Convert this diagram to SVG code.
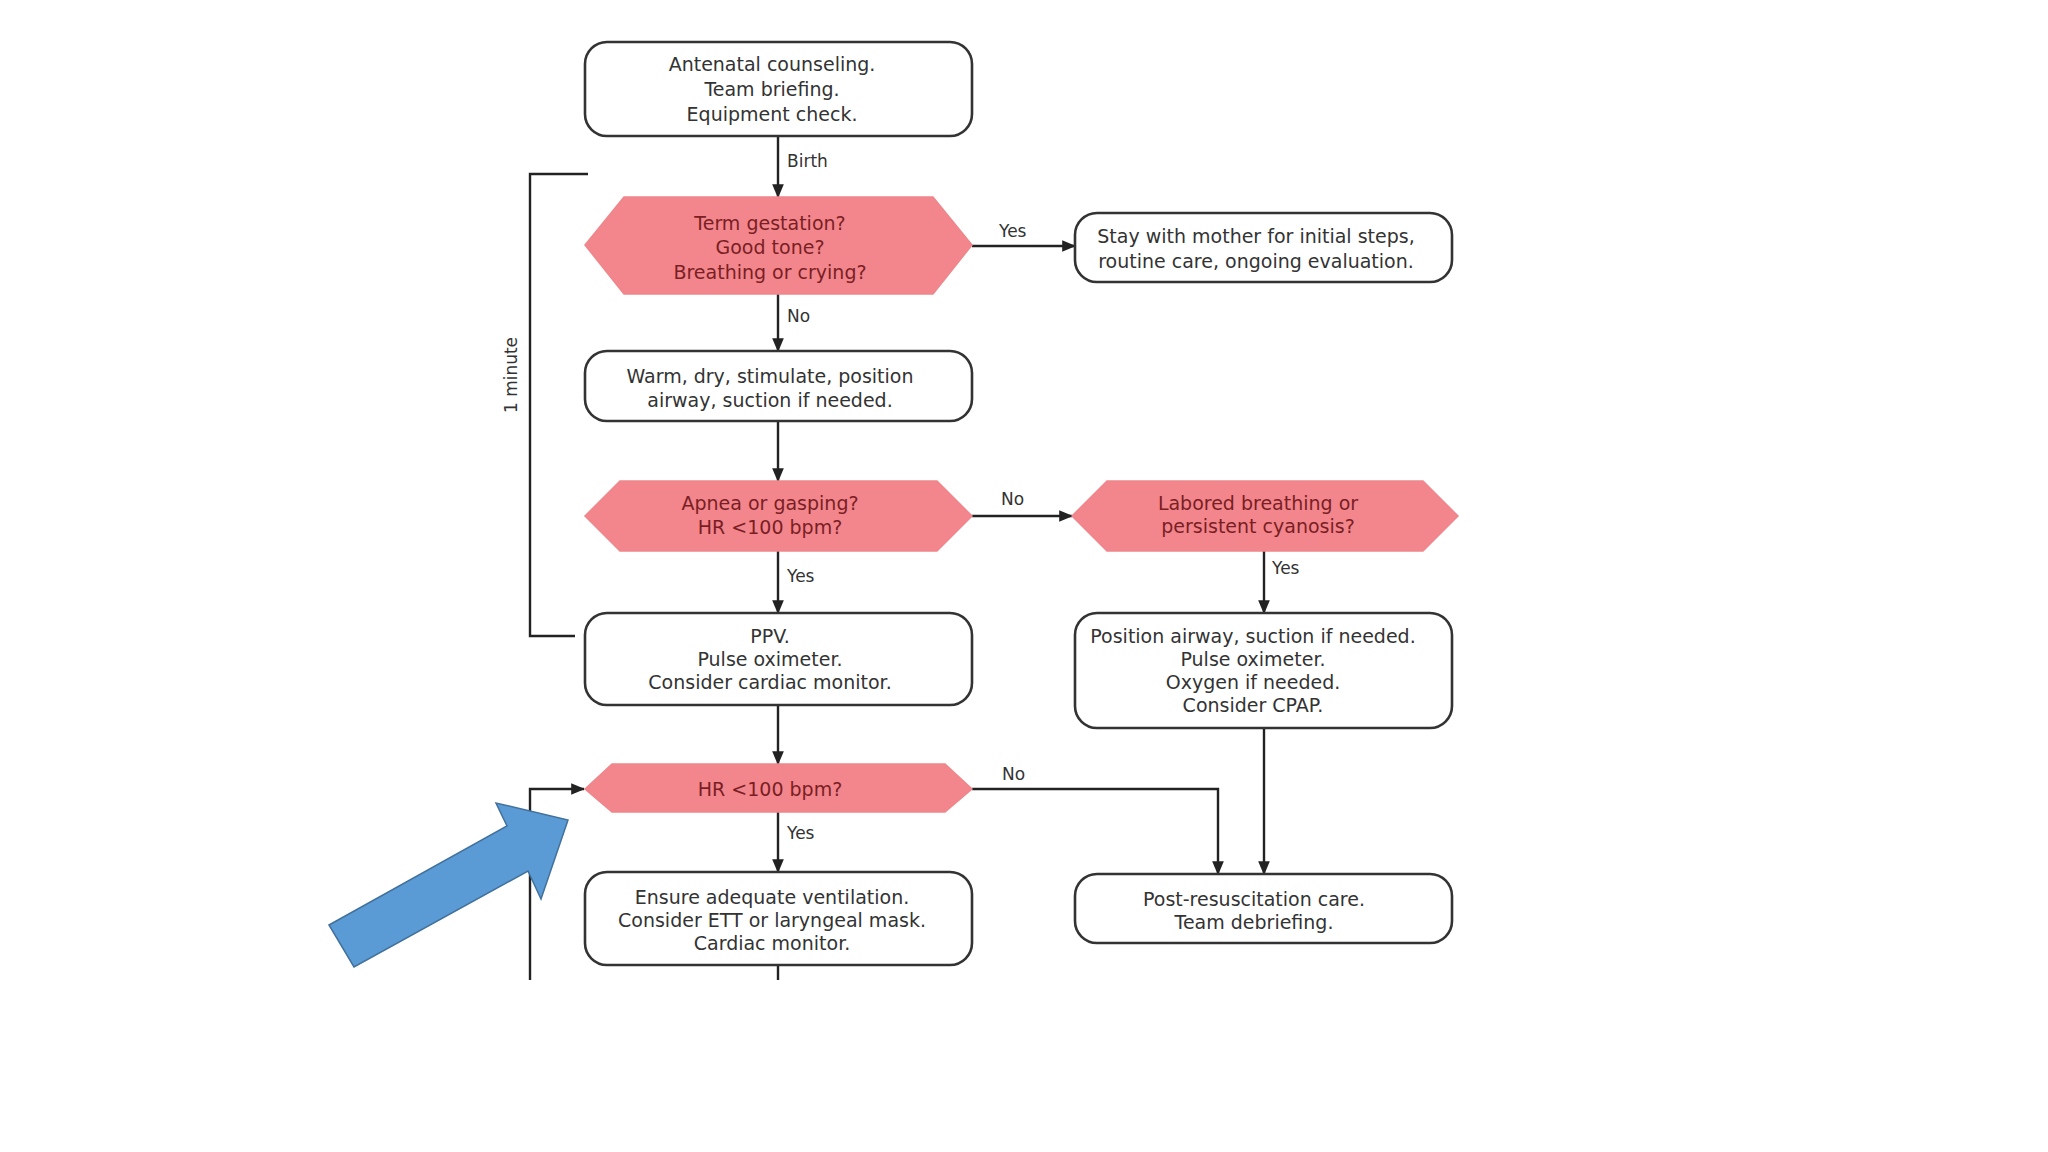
<svg xmlns="http://www.w3.org/2000/svg" width="2048" height="1152" viewBox="0 0 2048 1152">
<defs>
<marker id="ah" viewBox="0 0 12 10" refX="11" refY="5" markerWidth="14" markerHeight="12" orient="auto" markerUnits="userSpaceOnUse">
<path d="M0,0 L12,5 L0,10 Z" fill="#222"/>
</marker>
<style>
.box{fill:#fff;stroke:#333;stroke-width:2.6}
.hex{fill:#F2868C;stroke:#EE868B;stroke-width:1.5}
.t{font-family:"DejaVu Sans",sans-serif;font-size:19px;fill:#333;text-anchor:middle}
.h{font-family:"DejaVu Sans",sans-serif;font-size:19px;fill:#7a1e24;text-anchor:middle}
.l{font-family:"DejaVu Sans",sans-serif;font-size:17px;fill:#333}
.c{fill:none;stroke:#222;stroke-width:2.4}
.cm{fill:none;stroke:#222;stroke-width:2.4;marker-end:url(#ah)}
</style>
</defs>
<rect width="2048" height="1152" fill="#fff"/>

<g id="connectors">
<line class="cm" x1="778" y1="136" x2="778" y2="197"/>
<line class="cm" x1="972" y1="246" x2="1075" y2="246"/>
<line class="cm" x1="778" y1="294" x2="778" y2="351"/>
<line class="cm" x1="778" y1="421" x2="778" y2="481"/>
<line class="cm" x1="972" y1="516" x2="1072" y2="516"/>
<line class="cm" x1="778" y1="551" x2="778" y2="613"/>
<line class="cm" x1="1264" y1="551" x2="1264" y2="613"/>
<line class="cm" x1="778" y1="705" x2="778" y2="764"/>
<line class="cm" x1="778" y1="812" x2="778" y2="872"/>
<polyline class="cm" points="972,789 1218,789 1218,874"/>
<line class="cm" x1="1264" y1="728" x2="1264" y2="874"/>
<line class="c" x1="778" y1="965" x2="778" y2="980"/>
<polyline class="cm" points="530,980 530,789 584,789"/>
<polyline class="c" points="588,174 530,174 530,636 575,636"/>
<text class="l" x="787" y="167">Birth</text>
<text class="l" x="999" y="237">Yes</text>
<text class="l" x="787" y="322">No</text>
<text class="l" x="1001" y="505">No</text>
<text class="l" x="787" y="582">Yes</text>
<text class="l" x="1272" y="574">Yes</text>
<text class="l" x="1002" y="780">No</text>
<text class="l" x="787" y="839">Yes</text>
<text class="l" x="0" y="0" text-anchor="middle" transform="translate(517,375) rotate(-90)">1 minute</text>
</g>

<g id="n1">
<rect class="box" x="585" y="42" width="387" height="94" rx="22"/>
<text class="t" x="772" y="71">Antenatal counseling.</text>
<text class="t" x="772" y="96">Team briefing.</text>
<text class="t" x="772" y="121">Equipment check.</text>
</g>

<g id="n2">
<polygon class="hex" points="585,245 624,197 933,197 972,245 933,294 624,294"/>
<text class="h" x="770" y="230">Term gestation?</text>
<text class="h" x="770" y="254">Good tone?</text>
<text class="h" x="770" y="279">Breathing or crying?</text>
</g>

<g id="n3">
<rect class="box" x="1075" y="213" width="377" height="69" rx="22"/>
<text class="t" x="1256" y="243">Stay with mother for initial steps,</text>
<text class="t" x="1256" y="268">routine care, ongoing evaluation.</text>
</g>

<g id="n4">
<rect class="box" x="585" y="351" width="387" height="70" rx="22"/>
<text class="t" x="770" y="383">Warm, dry, stimulate, position</text>
<text class="t" x="770" y="407">airway, suction if needed.</text>
</g>

<g id="n5">
<polygon class="hex" points="585,516 620,481 937,481 972,516 937,551 620,551"/>
<text class="h" x="770" y="510">Apnea or gasping?</text>
<text class="h" x="770" y="534">HR &lt;100 bpm?</text>
</g>

<g id="n6">
<polygon class="hex" points="1072,516 1107,481 1423,481 1458,516 1423,551 1107,551"/>
<text class="h" x="1258" y="510">Labored breathing or</text>
<text class="h" x="1258" y="533">persistent cyanosis?</text>
</g>

<g id="n7">
<rect class="box" x="585" y="613" width="387" height="92" rx="22"/>
<text class="t" x="770" y="643">PPV.</text>
<text class="t" x="770" y="666">Pulse oximeter.</text>
<text class="t" x="770" y="689">Consider cardiac monitor.</text>
</g>

<g id="n8">
<rect class="box" x="1075" y="613" width="377" height="115" rx="22"/>
<text class="t" x="1253" y="643">Position airway, suction if needed.</text>
<text class="t" x="1253" y="666">Pulse oximeter.</text>
<text class="t" x="1253" y="689">Oxygen if needed.</text>
<text class="t" x="1253" y="712">Consider CPAP.</text>
</g>

<g id="n9">
<polygon class="hex" points="585,789 612,764 945,764 972,789 945,812 612,812"/>
<text class="h" x="770" y="796">HR &lt;100 bpm?</text>
</g>

<g id="n10">
<rect class="box" x="585" y="872" width="387" height="93" rx="22"/>
<text class="t" x="772" y="904">Ensure adequate ventilation.</text>
<text class="t" x="772" y="927">Consider ETT or laryngeal mask.</text>
<text class="t" x="772" y="950">Cardiac monitor.</text>
</g>

<g id="n11">
<rect class="box" x="1075" y="874" width="377" height="69" rx="22"/>
<text class="t" x="1254" y="906">Post-resuscitation care.</text>
<text class="t" x="1254" y="929">Team debriefing.</text>
</g>

<g id="blue-arrow">
<polygon points="329,925 507,826 496,803 568,820 541,899 528,871 354,967" fill="#5B9BD5" stroke="#41719C" stroke-width="1.5"/>
</g>
</svg>
